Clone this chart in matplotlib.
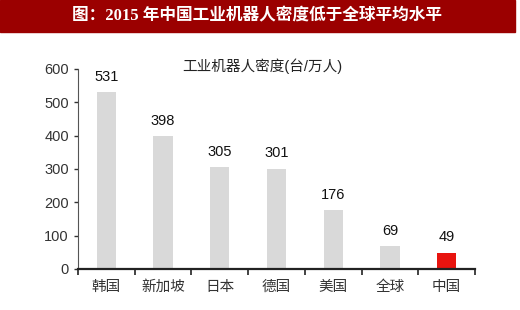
import matplotlib
matplotlib.use("Agg")
import matplotlib.pyplot as plt
from matplotlib.patches import Rectangle

# Liberation Sans for digits (Arial-like), CJK falls through to Noto
plt.rcParams['font.family'] = ['Liberation Sans', 'Noto Sans CJK SC', 'DejaVu Sans']

# data
countries = ["韩国", "新加坡", "日本", "德国", "美国", "全球", "中国"]
density = [531, 398, 305, 301, 176, 69, 49]
bar_colors = ["#d9d9d9"] * 6 + ["#e8140f"]
title = "图：2015 年中国工业机器人密度低于全球平均水平"
series_name = "工业机器人密度(台/万人)"

fig = plt.figure(figsize=(5.2, 3.1), dpi=100)

# dark red title band
fig.patches.append(Rectangle((0, 1 - 32 / 310), 515 / 520, 32 / 310,
                             transform=fig.transFigure, color="#9b0000", zorder=0))
fig.text(257 / 520, 1 - 16 / 310, title, color="white", fontsize=12,
         fontweight="bold", ha="center", va="center",
         family=['Liberation Serif', 'Noto Sans CJK SC', 'DejaVu Sans'])

ax = fig.add_axes([78 / 520, 1 - 269 / 310, 397 / 520, 200 / 310])
x = list(range(len(countries)))
bars = ax.bar(x, density, width=0.34, color=bar_colors)

# value labels above bars
for xi, v in zip(x, density):
    ax.annotate(str(v), (xi, v), xytext=(0, 6), textcoords="offset points",
                ha="center", va="bottom", fontsize=10.5, color="#111111")

ax.set_xlim(-0.5, len(countries) - 0.5)
ax.set_ylim(0, 600)
ax.set_yticks(range(0, 601, 100))
ax.tick_params(axis="y", labelsize=10.5, colors="#333333", length=3, width=1)

# category labels centered, tick marks at boundaries
ax.set_xticks(x)
ax.set_xticklabels(countries, fontsize=10.5, color="#333333")
ax.tick_params(axis="x", length=0, pad=8)
ax.set_xticks([i - 0.5 for i in range(len(countries) + 1)], minor=True)
ax.tick_params(axis="x", which="minor", length=4, width=1.2, color="#222222")

for side in ["top", "right"]:
    ax.spines[side].set_visible(False)
ax.spines["left"].set_color("#555555")
ax.spines["bottom"].set_color("#222222")
ax.spines["bottom"].set_linewidth(1.6)

fig.text(262 / 520, 1 - 66 / 310, series_name, fontsize=10.5, color="#222222",
         ha="center", va="center")

fig.savefig("out.png", dpi=100)
